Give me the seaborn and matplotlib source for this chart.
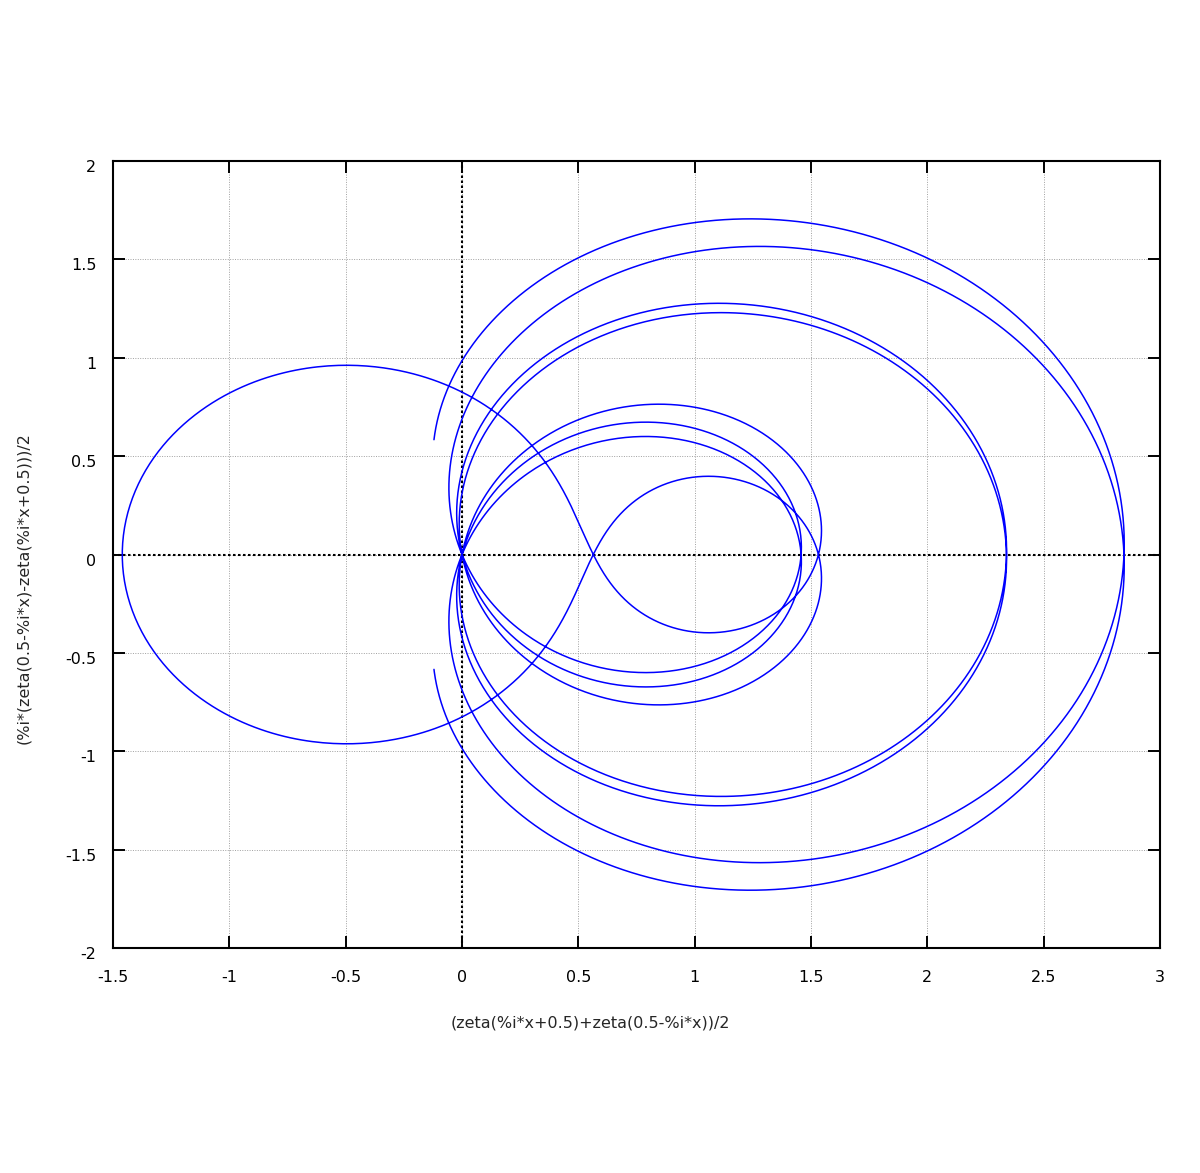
import numpy as np
import pandas as pd
import matplotlib
matplotlib.use('Agg')
import matplotlib.pyplot as plt
import matplotlib.transforms as mtransforms
import seaborn as sns
from math import lgamma, log, exp

# --- 定数 ---
OUTPUT_IMAGE_PATH = 'out.png'
PARAM_RANGE = [-30, 30]   # x の範囲 (plot2d parametric)
N_POINTS = 6000
X_LIMITS = [-1.5, 3]
Y_LIMITS = [-2, 2]
X_TICKS = [-1.5, -1, -0.5, 0, 0.5, 1, 1.5, 2, 2.5, 3]
Y_TICKS = [-2, -1.5, -1, -0.5, 0, 0.5, 1, 1.5, 2]
X_LABEL = '(zeta(%i*x+0.5)+zeta(0.5-%i*x))/2'
Y_LABEL = '(%i*(zeta(0.5-%i*x)-zeta(%i*x+0.5)))/2'


def zeta_critical(x, n=100):
    """zeta(0.5 + i*x) を Borwein のアルゴリズムで計算する"""
    terms = [exp(log(n) + lgamma(n + i) + i * log(4) - lgamma(n - i + 1) - lgamma(2 * i + 1))
             for i in range(n + 1)]
    d = np.cumsum(terms)
    k = np.arange(n)
    coef = ((-1.0) ** k) * (d[:n] / d[n] - 1.0)
    s = 0.5 + 1j * np.asarray(x)
    powers = np.exp(-np.outer(s, np.log(k + 1.0)))
    eta = -(powers @ coef)
    return eta / (1 - 2 ** (1 - s))


param = np.linspace(PARAM_RANGE[0], PARAM_RANGE[1], N_POINTS)
z = zeta_critical(param)
df = pd.DataFrame({'x': param, 're': z.real, 'im': z.imag})

sns.set_style('white')
plt.rcParams['font.family'] = ['DejaVu Sans']

fig = plt.figure(figsize=(12, 11.73), dpi=100)
ax = fig.add_axes([0.0942, 0.1918, 0.8725, 0.6709])

sns.lineplot(data=df, x='re', y='im', sort=False, estimator=None,
             color='#0000ff', linewidth=1.1, ax=ax)

ax.axhline(0, color='black', linestyle=(0, (1.2, 1.2)), linewidth=1.5, zorder=1)
ax.axvline(0, color='black', linestyle=(0, (1.2, 1.2)), linewidth=1.5, zorder=1)

ax.set_xlim(X_LIMITS)
ax.set_ylim(Y_LIMITS)
ax.set_xticks(X_TICKS)
ax.set_yticks(Y_TICKS)
ax.set_xticklabels([f'{v:g}' for v in X_TICKS])
ax.set_yticklabels([f'{v:g}' for v in Y_TICKS])
ax.grid(True, color='#a0a0a0', linestyle=(0, (1, 1.5)), linewidth=0.7)
ax.set_axisbelow(True)
ax.tick_params(direction='in', length=8.5, width=1.4, top=True, right=True,
               bottom=True, left=True, labelsize=11.5, colors='black')
ax.tick_params(axis='x', pad=16)
ax.tick_params(axis='y', pad=12)
for sp in ax.spines.values():
    sp.set_linewidth(1.5)
    sp.set_color('black')

# gnuplot 風に y 目盛りラベルを少し下げる
offset = mtransforms.ScaledTranslation(0, -5 / 100, fig.dpi_scale_trans)
for lab in ax.get_yticklabels():
    lab.set_transform(lab.get_transform() + offset)

ax.set_xlabel('')
ax.set_ylabel('')
fig.text(590 / 1200, 1 - 1023 / 1173, X_LABEL, ha='center', va='center', fontsize=11.5)
fig.text(24 / 1200, 1 - 588 / 1173, Y_LABEL, ha='center', va='center',
         rotation=90, fontsize=11.5)

fig.savefig(OUTPUT_IMAGE_PATH, dpi=100)
